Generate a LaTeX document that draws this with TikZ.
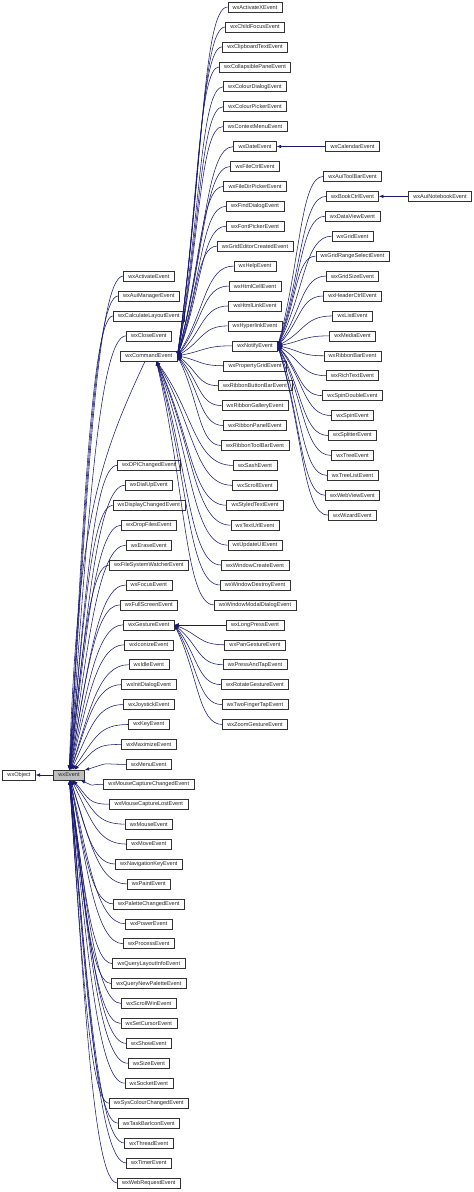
\documentclass[tikz,border=0pt]{standalone}
\usepackage{fontspec}
\setmainfont{Liberation Sans}
\usetikzlibrary{arrows.meta}
\definecolor{edgeblue}{HTML}{191970}
\definecolor{basegray}{HTML}{BFBFBF}
\newdimen\inhx
\newdimen\inhy
\newcommand\row[1]{-7-19.93*#1}
% edge from the border of the parent (by direction) to the west side of the child
\newcommand\inhedge[2]{%
  \pgfextractx{\inhx}{\pgfpointdiff{\pgfpointanchor{#1}{center}}{\pgfpointanchor{#2}{west}}}%
  \pgfextracty{\inhy}{\pgfpointdiff{\pgfpointanchor{#1}{center}}{\pgfpointanchor{#2}{west}}}%
  \pgfmathsetmacro\inhang{atan2(\inhy,0.6*\inhx)}%
  \pgfmathsetmacro\inhod{0.5*veclen(\inhx,\inhy)}%
  \pgfmathsetmacro\inhid{0.5*\inhx}%
  \draw[inh] (#1) to[out=\inhang,in=180,out distance=\inhod pt,in distance=\inhid pt] (#2);%
}
% edge from a given anchor of the parent to the west side of the child
\newcommand\inhedgeat[3]{%
  \pgfextractx{\inhx}{\pgfpointdiff{\pgfpointanchor{#1}{#2}}{\pgfpointanchor{#3}{west}}}%
  \pgfextracty{\inhy}{\pgfpointdiff{\pgfpointanchor{#1}{#2}}{\pgfpointanchor{#3}{west}}}%
  \pgfmathsetmacro\inhang{atan2(\inhy,\inhx)}%
  \pgfmathsetmacro\inhod{0.5*veclen(\inhx,\inhy)}%
  \pgfmathsetmacro\inhid{0.5*\inhx}%
  \draw[inh] (#1.#2) to[out=\inhang,in=180,out distance=\inhod pt,in distance=\inhid pt] (#3);%
}
\tikzset{
  cls/.style={draw=black!80, line width=0.45pt, fill=white,
    font=\fontsize{5.6}{6}\selectfont, inner xsep=4.85pt, inner ysep=0pt,
    minimum height=10pt, text=black!85},
  basecls/.style={cls, fill=basegray},
  inh/.style={draw=edgeblue, line width=0.55pt, >={Latex[length=4.5pt,width=3.5pt]}, <-},
}
\begin{document}
\begin{tikzpicture}[x=1pt,y=1pt]
\useasboundingbox (0,0) rectangle (474,-1192);
% column 1
\node[cls] (obj) at (19,-775) {wxObject};
\node[basecls] (evt) at (69,-775) {wxEvent};
% column 2 upper
\node[cls] (ae)  at (148.8,{\row{13.5}}) {wxActivateEvent};
\node[cls] (ame) at (148.8,{\row{14.5}}) {wxAuiManagerEvent};
\node[cls] (cle) at (148.8,{\row{15.5}}) {wxCalculateLayoutEvent};
\node[cls] (clo) at (148.8,{\row{16.5}}) {wxCloseEvent};
\node[cls] (cmd) at (148.8,{\row{17.5}}) {wxCommandEvent};
% column 2 lower
\node[cls] (dpi)  at (148.8,{\row{23}}) {wxDPIChangedEvent};
\node[cls] (dial) at (148.8,{\row{24}}) {wxDialUpEvent};
\node[cls] (disp) at (148.8,{\row{25}}) {wxDisplayChangedEvent};
\node[cls] (drop) at (148.8,{\row{26}}) {wxDropFilesEvent};
\node[cls] (eras) at (148.8,{\row{27}}) {wxEraseEvent};
\node[cls] (fsw)  at (148.8,{\row{28}}) {wxFileSystemWatcherEvent};
\node[cls] (foc)  at (148.8,{\row{29}}) {wxFocusEvent};
\node[cls] (fsc)  at (148.8,{\row{30}}) {wxFullScreenEvent};
\node[cls] (ges)  at (148.8,{\row{31}}) {wxGestureEvent};
\node[cls] (ico)  at (148.8,{\row{32}}) {wxIconizeEvent};
\node[cls] (idle) at (148.8,{\row{33}}) {wxIdleEvent};
\node[cls] (init) at (148.8,{\row{34}}) {wxInitDialogEvent};
\node[cls] (joy)  at (148.8,{\row{35}}) {wxJoystickEvent};
\node[cls] (key)  at (148.8,{\row{36}}) {wxKeyEvent};
\node[cls] (max)  at (148.8,{\row{37}}) {wxMaximizeEvent};
\node[cls] (menu) at (148.8,{\row{38}}) {wxMenuEvent};
\node[cls] (mcc)  at (148.8,{\row{39}}) {wxMouseCaptureChangedEvent};
\node[cls] (mcl)  at (148.8,{\row{40}}) {wxMouseCaptureLostEvent};
\node[cls] (mou)  at (148.8,{\row{41}}) {wxMouseEvent};
\node[cls] (mov)  at (148.8,{\row{42}}) {wxMoveEvent};
\node[cls] (nav)  at (148.8,{\row{43}}) {wxNavigationKeyEvent};
\node[cls] (pnt)  at (148.8,{\row{44}}) {wxPaintEvent};
\node[cls] (pal)  at (148.8,{\row{45}}) {wxPaletteChangedEvent};
\node[cls] (pow)  at (148.8,{\row{46}}) {wxPowerEvent};
\node[cls] (proc) at (148.8,{\row{47}}) {wxProcessEvent};
\node[cls] (qli)  at (148.8,{\row{48}}) {wxQueryLayoutInfoEvent};
\node[cls] (qnp)  at (148.8,{\row{49}}) {wxQueryNewPaletteEvent};
\node[cls] (scw)  at (148.8,{\row{50}}) {wxScrollWinEvent};
\node[cls] (scur) at (148.8,{\row{51}}) {wxSetCursorEvent};
\node[cls] (show) at (148.8,{\row{52}}) {wxShowEvent};
\node[cls] (size) at (148.8,{\row{53}}) {wxSizeEvent};
\node[cls] (sock) at (148.8,{\row{54}}) {wxSocketEvent};
\node[cls] (sysc) at (148.8,{\row{55}}) {wxSysColourChangedEvent};
\node[cls] (tbi)  at (148.8,{\row{56}}) {wxTaskBarIconEvent};
\node[cls] (thr)  at (148.8,{\row{57}}) {wxThreadEvent};
\node[cls] (tim)  at (148.8,{\row{58}}) {wxTimerEvent};
\node[cls] (webr) at (148.8,{\row{59}}) {wxWebRequestEvent};
% column 3 (wxCommandEvent children)
\node[cls] (actx) at (255,{\row{0}}) {wxActivateXEvent};
\node[cls] (chf)  at (255,{\row{1}}) {wxChildFocusEvent};
\node[cls] (clip) at (255,{\row{2}}) {wxClipboardTextEvent};
\node[cls] (colp) at (255,{\row{3}}) {wxCollapsiblePaneEvent};
\node[cls] (cold) at (255,{\row{4}}) {wxColourDialogEvent};
\node[cls] (colk) at (255,{\row{5}}) {wxColourPickerEvent};
\node[cls] (ctx)  at (255,{\row{6}}) {wxContextMenuEvent};
\node[cls] (date) at (255,{\row{7}}) {wxDateEvent};
\node[cls] (fctl) at (255,{\row{8}}) {wxFileCtrlEvent};
\node[cls] (fdp)  at (255,{\row{9}}) {wxFileDirPickerEvent};
\node[cls] (find) at (255,{\row{10}}) {wxFindDialogEvent};
\node[cls] (font) at (255,{\row{11}}) {wxFontPickerEvent};
\node[cls] (gec)  at (255,{\row{12}}) {wxGridEditorCreatedEvent};
\node[cls] (help) at (255,{\row{13}}) {wxHelpEvent};
\node[cls] (hcel) at (255,{\row{14}}) {wxHtmlCellEvent};
\node[cls] (hlnk) at (255,{\row{15}}) {wxHtmlLinkEvent};
\node[cls] (hyp)  at (255,{\row{16}}) {wxHyperlinkEvent};
\node[cls] (ntf)  at (255,{\row{17}}) {wxNotifyEvent};
\node[cls] (pgr)  at (255,{\row{18}}) {wxPropertyGridEvent};
\node[cls] (rbb)  at (255,{\row{19}}) {wxRibbonButtonBarEvent};
\node[cls] (rgal) at (255,{\row{20}}) {wxRibbonGalleryEvent};
\node[cls] (rpan) at (255,{\row{21}}) {wxRibbonPanelEvent};
\node[cls] (rtb)  at (255,{\row{22}}) {wxRibbonToolBarEvent};
\node[cls] (sash) at (255,{\row{23}}) {wxSashEvent};
\node[cls] (scr)  at (255,{\row{24}}) {wxScrollEvent};
\node[cls] (sty)  at (255,{\row{25}}) {wxStyledTextEvent};
\node[cls] (turl) at (255,{\row{26}}) {wxTextUrlEvent};
\node[cls] (uui)  at (255,{\row{27}}) {wxUpdateUIEvent};
\node[cls] (wcr)  at (255,{\row{28}}) {wxWindowCreateEvent};
\node[cls] (wds)  at (255,{\row{29}}) {wxWindowDestroyEvent};
\node[cls] (wmd)  at (255,{\row{30}}) {wxWindowModalDialogEvent};
% column 3 (wxGestureEvent children)
\node[cls] (lpr)  at (255,{\row{31}}) {wxLongPressEvent};
\node[cls] (pang) at (255,{\row{32}}) {wxPanGestureEvent};
\node[cls] (pat)  at (255,{\row{33}}) {wxPressAndTapEvent};
\node[cls] (rotg) at (255,{\row{34}}) {wxRotateGestureEvent};
\node[cls] (tft)  at (255,{\row{35}}) {wxTwoFingerTapEvent};
\node[cls] (zoom) at (255,{\row{36}}) {wxZoomGestureEvent};
% column 4
\node[cls] (cal)  at (352.5,{\row{7}}) {wxCalendarEvent};
\node[cls] (atb)  at (352.5,{\row{8.5}}) {wxAuiToolBarEvent};
\node[cls] (book) at (352.5,{\row{9.5}}) {wxBookCtrlEvent};
\node[cls] (dv)   at (352.5,{\row{10.5}}) {wxDataViewEvent};
\node[cls] (grid) at (352.5,{\row{11.5}}) {wxGridEvent};
\node[cls] (grs)  at (352.5,{\row{12.5}}) {wxGridRangeSelectEvent};
\node[cls] (gsz)  at (352.5,{\row{13.5}}) {wxGridSizeEvent};
\node[cls] (hdr)  at (352.5,{\row{14.5}}) {wxHeaderCtrlEvent};
\node[cls] (list) at (352.5,{\row{15.5}}) {wxListEvent};
\node[cls] (med)  at (352.5,{\row{16.5}}) {wxMediaEvent};
\node[cls] (rbar) at (352.5,{\row{17.5}}) {wxRibbonBarEvent};
\node[cls] (rich) at (352.5,{\row{18.5}}) {wxRichTextEvent};
\node[cls] (spd)  at (352.5,{\row{19.5}}) {wxSpinDoubleEvent};
\node[cls] (spin) at (352.5,{\row{20.5}}) {wxSpinEvent};
\node[cls] (spl)  at (352.5,{\row{21.5}}) {wxSplitterEvent};
\node[cls] (tree) at (352.5,{\row{22.5}}) {wxTreeEvent};
\node[cls] (tlst) at (352.5,{\row{23.5}}) {wxTreeListEvent};
\node[cls] (wv)   at (352.5,{\row{24.5}}) {wxWebViewEvent};
\node[cls] (wiz)  at (352.5,{\row{25.5}}) {wxWizardEvent};
% column 5
\node[cls] (anb)  at (440,{\row{9.5}}) {wxAuiNotebookEvent};
% connectors
\inhedgeat{obj}{east}{evt}
\foreach \c in {ae,ame,cle,clo,dpi,dial,disp,drop,eras,fsw,foc,fsc,ges,ico,idle,init,joy,key,max,menu,mcc,mcl,mou,mov,nav,pnt,pal,pow,proc,qli,qnp,scw,scur,show,size,sock,sysc,tbi,thr,tim,webr}{\inhedge{evt}{\c}}
\draw[inh] (evt) to[out=88,in=-115,out distance=250pt,in distance=110pt] (cmd.-125);
\foreach \c in {actx,chf,clip,colp,cold,colk,ctx,date,fctl,fdp,find,font,gec,help,hcel,hlnk,hyp,ntf,pgr,rbb,rgal,rpan,rtb}{\inhedgeat{cmd}{east}{\c}}
\foreach \c in {sash,scr,sty,turl,uui,wcr,wds,wmd}{\inhedgeat{cmd}{-35}{\c}}
\foreach \c in {lpr,pang,pat,rotg,tft,zoom}{\inhedgeat{ges}{east}{\c}}
\inhedgeat{date}{east}{cal}
\foreach \c in {atb,book,dv,grid,grs,gsz,hdr,list,med,rbar,rich,spd,spin,spl,tree,tlst,wv,wiz}{\inhedgeat{ntf}{east}{\c}}
\inhedgeat{book}{east}{anb}
\end{tikzpicture}
\end{document}
